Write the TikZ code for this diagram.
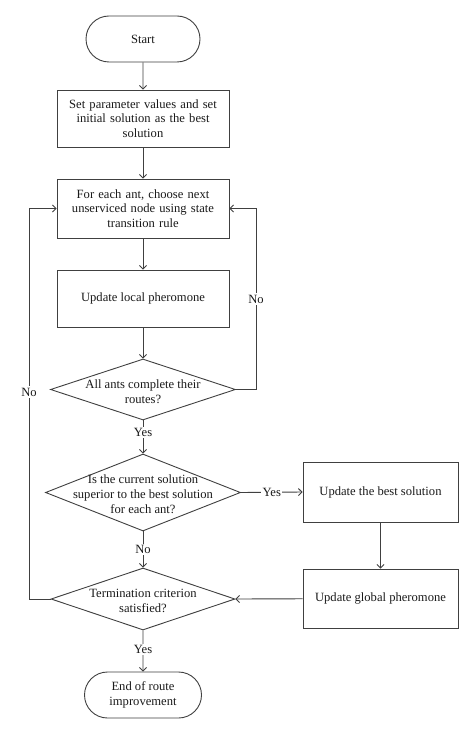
\documentclass[tikz,border=0pt]{standalone}
\usepackage{fontspec}
\setmainfont{Liberation Serif}
\usetikzlibrary{shapes.geometric,shapes.misc,arrows.meta}
\definecolor{ln}{HTML}{404040}
\definecolor{tx}{HTML}{1A1A1A}
\tikzset{
  every node/.style={text=tx, font=\fontsize{12.6}{14.8}\selectfont},
  terminal/.style={draw=ln, line width=0.9pt, rounded rectangle, minimum width=114pt, minimum height=46pt, inner sep=0pt, align=center},
  procbox/.style={draw=ln, line width=0.9pt, rectangle, inner sep=0pt, align=center},
  decision/.style={draw=ln, line width=0.9pt, diamond, inner sep=0pt},
  lbl/.style={fill=white, inner sep=1.5pt},
  conn/.style={draw=ln, line width=0.9pt, -{Straight Barb[length=3.5pt,width=7pt]}},
  plain/.style={draw=ln, line width=0.9pt}
}
\begin{document}
\begin{tikzpicture}[x=1pt,y=-1pt]
\useasboundingbox[fill=white] (0,0) rectangle (474,735);
\node[terminal] (start) at (143,39) {Start};
\node[procbox, minimum width=172pt, minimum height=57pt, text width=165pt] (init) at (143,118.5) {Set parameter values and set\\ initial solution as the best\\ solution};
\node[procbox, minimum width=172pt, minimum height=59pt, text width=165pt] (choose) at (143,208.5) {For each ant, choose next\\ unserviced node using state\\ transition rule};
\node[procbox, minimum width=172pt, minimum height=57pt] (local) at (143,298.5) {Update local pheromone};
\node[decision, minimum width=185pt, minimum height=61pt] (d1) at (143,389.5) {};
\node[align=center] (d1t) at (143,392) {All ants complete their\\ routes?};
\node[decision, minimum width=195pt, minimum height=77pt] (d2) at (143,492.5) {};
\node[align=center] (d2t) at (143,494) {Is the current solution\\ superior to the best solution\\ for each ant?};
\node[procbox, minimum width=155pt, minimum height=60pt] (best) at (380.5,492) {Update the best solution};
\node[procbox, minimum width=155pt, minimum height=59pt] (global) at (380.5,598.5) {Update global pheromone};
\node[decision, minimum width=184pt, minimum height=62pt] (d3) at (143,599) {};
\node[align=center] (d3t) at (143,601) {Termination criterion\\ satisfied?};
\node[terminal, minimum width=117pt] (end) at (143,695) {End of route\\ improvement};
\coordinate (rtop) at (256,208.5);
\coordinate (rbot) at (256,389.5);
\coordinate (ltop) at (29,208.5);
\coordinate (lbot) at (29,599);
\draw[conn] (start) -- (init);
\draw[conn] (init) -- (choose);
\draw[conn] (choose) -- (local);
\draw[conn] (local) -- (d1.north);
\draw[plain] (d1.east) -- (rbot);
\draw[conn] (rbot) -- node[lbl, pos=0.5] (no1) {No} (rtop) -- (choose.east);
\draw[conn] (d1.south) -- node[lbl, pos=0.37] (yes1) {Yes} (d2.north);
\draw[conn] (d2.east) -- node[lbl, pos=0.5] (yes2) {Yes} (best.west);
\draw[conn] (d2.south) -- node[lbl, pos=0.5] (no2) {No} (d3.north);
\draw[conn] (best) -- (global);
\draw[conn] (global) -- (d3.east);
\draw[plain] (d3.west) -- (lbot);
\draw[conn] (lbot) -- node[lbl, pos=0.53] (no3) {No} (ltop) -- (choose.west);
\draw[conn] (d3.south) -- node[lbl, pos=0.47] (yes3) {Yes} (end);
\end{tikzpicture}
\end{document}
